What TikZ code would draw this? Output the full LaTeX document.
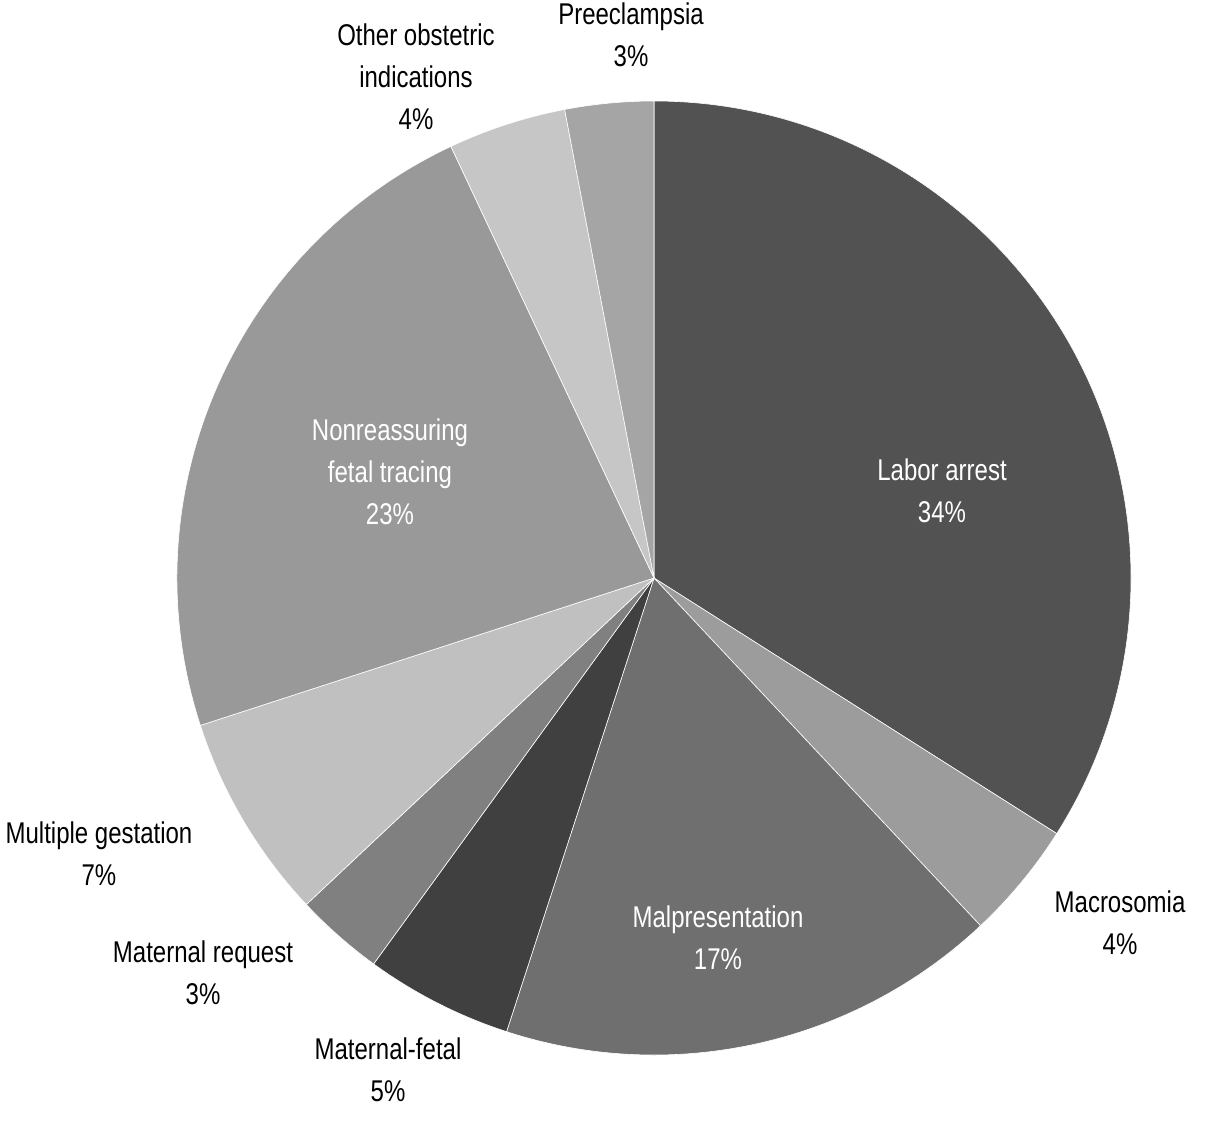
\documentclass[tikz,border=0pt]{standalone}
\usepackage{fontspec}
\setmainfont{Liberation Sans}[FakeStretch=0.8]
\begin{document}
\begin{tikzpicture}[x=1pt,y=-1pt,
  lab/.style={align=center,font=\fontsize{30}{42}\selectfont,text=black,inner sep=0pt},
  wlab/.style={lab,text=white},
  sep/.style={draw=white,line width=0.6pt}]
\useasboundingbox (0,0) rectangle (1215,1124);
\clip (0,0) rectangle (1215,1124);
\begin{scope}[shift={(654,578)},x=1pt,y=1pt]
\def\R{477}
\foreach \a/\b/\c in {90/-32.4/525252, -32.4/-46.8/9C9C9C, -46.8/-108/6F6F6F, -108/-126/404040, -126/-136.8/808080, -136.8/-162/C0C0C0, -162/-244.8/999999, -244.8/-259.2/C6C6C6, -259.2/-270/A5A5A5}{
  \definecolor{sc}{HTML}{\c}
  \fill[sc,sep] (0,0) -- (\a:\R) arc[start angle=\a,end angle=\b,radius=\R] -- cycle;
}
\end{scope}
\node[lab] (pre) at (631,35) {Preeclampsia\\3\%};
\node[lab] (oth) at (416,77) {Other obstetric\\indications\\4\%};
\node[wlab] (lab) at (942,491) {Labor arrest\\34\%};
\node[wlab] (non) at (390,472) {Nonreassuring\\fetal tracing\\23\%};
\node[lab] (mul) at (99,854) {Multiple gestation\\7\%};
\node[lab] (req) at (203,973) {Maternal request\\3\%};
\node[lab] (mf) at (388,1070) {Maternal-fetal\\5\%};
\node[wlab] (mal) at (718,938) {Malpresentation\\17\%};
\node[lab] (mac) at (1120,923) {Macrosomia\\4\%};
\end{tikzpicture}
\end{document}
